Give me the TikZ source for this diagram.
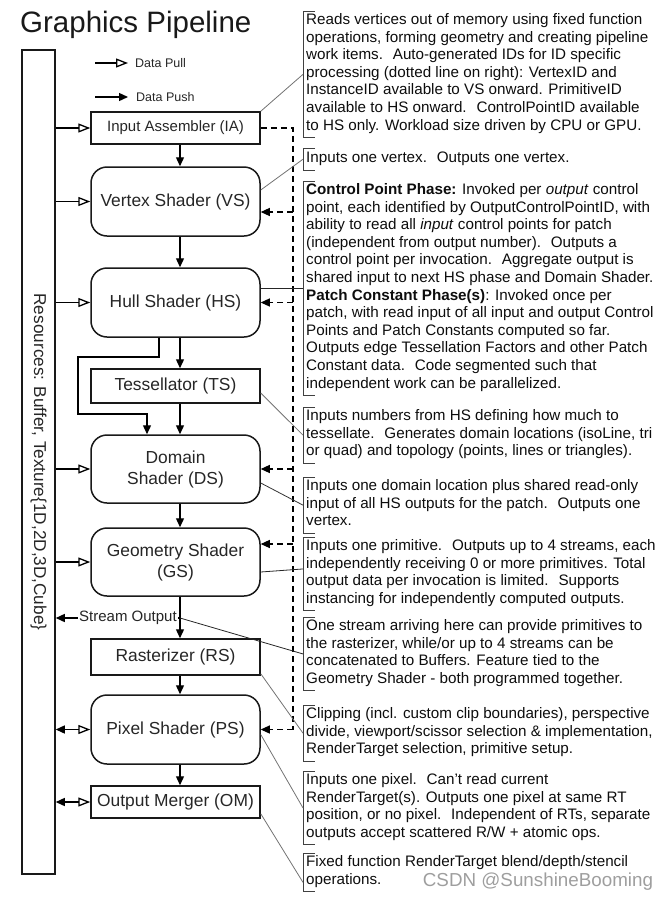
\documentclass[tikz,border=0pt]{standalone}
\usepackage{fontspec}
\setmainfont{Liberation Sans}
\usetikzlibrary{arrows.meta,calc}
\def\notebracket#1{\draw[brk] ([xshift=12pt]#1.north west) -- (#1.north west) -- (#1.south west) -- ([xshift=12pt]#1.south west);}

\tikzset{
	stage/.style={draw=black!90, line width=1.5pt, minimum width=169pt, text=black!85, font=\fontsize{17.4}{21}\selectfont, align=center, inner sep=0pt},
	shader/.style={stage, rounded corners=16pt},
	note/.style={anchor=north west, align=left, inner xsep=3pt, inner ysep=2pt, text=black!95, font=\fontsize{15.2}{17.6}\selectfont, execute at begin node=\strut, execute at end node=\strut},
	legend/.style={anchor=west, inner sep=0pt, text=black!85, font=\fontsize{12.5}{15}\selectfont},
	brk/.style={line width=0.9pt, black!75},
	lead/.style={line width=0.8pt, black!55},
	push/.style={line width=1.3pt, -{Triangle[length=9pt,width=8pt]}},
	pull/.style={line width=1.3pt, -{Triangle[open,length=12pt,width=9pt]}},
	both/.style={line width=1.3pt, {Triangle[length=9pt,width=8pt]}-{Triangle[open,length=12pt,width=9pt]}},
	idline/.style={line width=1.1pt, dash pattern=on 6pt off 4pt},
	idpush/.style={idline, -{Triangle[length=9pt,width=8pt]}}
}

\begin{document}
\begin{tikzpicture}[x=1pt, y=-1pt]
			%%%%% START %%%%%
			\useasboundingbox (0,0) rectangle (669,900);
			
			\node[anchor=base west, inner sep=0pt, text=black!90, font=\fontsize{29.5}{34}\selectfont] (title) at (20,32) {Graphics Pipeline};
			
			\node[draw=black!90, line width=1.5pt, minimum width=33pt, minimum height=824pt, inner sep=0pt] (res) at (38.5,462) {};
			\node[rotate=-90, text=black!85, font=\fontsize{17.2}{21}\selectfont] (restxt) at (res.center) {Resources: Buffer, Texture\{1D,2D,3D,Cube\}};
			
			\node[legend] (pulltxt) at (135,63) {Data Pull};
			\node[legend] (pushtxt) at (136,97) {Data Push};
			\coordinate (pullleg) at (95,63);
			\coordinate (pushleg) at (95,97);
			\draw[pull] (pullleg) -- ([xshift=-7pt]pulltxt.west);
			\draw[push] (pushleg) -- ([xshift=-8pt]pushtxt.west);
			
			\node[stage, minimum height=32pt, font=\fontsize{15}{18}\selectfont] (ia) at (175.5,128) {Input Assembler (IA)};
			\node[shader, minimum height=69pt] (vs) at (175.5,201.5) {Vertex Shader (VS)};
			\node[shader, minimum height=69pt] (hs) at (175.5,302.5) {Hull Shader (HS)};
			\node[stage, minimum height=34pt] (ts) at (175.5,386) {Tessellator (TS)};
			\node[shader, minimum height=68pt] (ds) at (175.5,469) {Domain\\Shader (DS)};
			\node[shader, minimum height=68pt] (gs) at (175.5,562) {Geometry Shader\\(GS)};
			\node[stage, minimum height=36pt] (rs) at (175.5,657) {Rasterizer (RS)};
			\node[shader, minimum height=69pt] (ps) at (175.5,729.5) {Pixel Shader (PS)};
			\node[stage, minimum height=32pt] (om) at (175.5,802) {Output Merger (OM)};
			
			% data push down the pipe
			\coordinate (spine) at (180,0);
			\foreach \a/\b in {ia/vs, vs/hs, hs/ts, ts/ds, ds/gs, gs/rs, rs/ps, ps/om}
				\draw[push] (\a.south -| spine) -- (\b.north -| spine);
			
			\coordinate (byp) at (78,357);
			\coordinate (dsin) at (147,414);
			\draw[push] ([xshift=-16.5pt]hs.south) |- (byp) |- (dsin) -- ([xshift=-28.5pt]ds.north);
			
			% data pull from resources
			\foreach \s in {ia, vs, hs, ds, gs}
				\draw[pull] (res.east |- \s) -- (\s);
			\foreach \s in {ps, om}
				\draw[both] (res.east |- \s) -- (\s);
			
			\coordinate (so) at (180,618);
			\draw[push] (so) -- (so -| res.east);
			\node[fill=white, inner xsep=1pt, inner ysep=0pt, text=black!85, font=\fontsize{15}{18}\selectfont] (sotxt) at (128,618) {Stream Output};
			
			% auto-generated IDs
			\coordinate (idcol) at (293,0);
			\draw[idline] (ia.east) -- (ia.east -| idcol) -- (ps.east -| idcol);
			\coordinate (vsid) at ([yshift=-10.5pt]vs.east);
			\coordinate (gsid) at ([yshift=18pt]gs.east);
			\foreach \t in {vsid, hs.east, ds.east, gsid, ps.east}
				\draw[idpush] (\t -| idcol) -- (\t);
			
			% notes
			\node[note] (iat) at (303,11.2) {Reads vertices out of memory using fixed function\\operations, forming geometry and creating pipeline\\work items.~ Auto-generated IDs for ID specific\\processing (dotted line on right): VertexID and\\InstanceID available to VS onward. PrimitiveID\\available to HS onward.~ ControlPointID available\\to HS only. Workload size driven by CPU or GPU.};
			\node[note] (vst) at (303,148.2) {Inputs one vertex.~ Outputs one vertex.};
			\node[note] (hst) at (303,181.2) {\textbf{Control Point Phase:} Invoked per \textit{output} control\\point, each identified by OutputControlPointID, with\\ability to read all \textit{input} control points for patch\\(independent from output number).~ Outputs a\\control point per invocation.~ Aggregate output is\\shared input to next HS phase and Domain Shader.\\\textbf{Patch Constant Phase(s)}: Invoked once per\\patch, with read input of all input and output Control\\Points and Patch Constants computed so far.\\Outputs edge Tessellation Factors and other Patch\\Constant data.~ Code segmented such that\\independent work can be parallelized.};
			\node[note] (tst) at (303,407.2) {Inputs numbers from HS defining how much to\\tessellate.~ Generates domain locations (isoLine, tri\\or quad) and topology (points, lines or triangles).};
			\node[note] (dst) at (303,477.2) {Inputs one domain location plus shared read-only\\input of all HS outputs for the patch.~ Outputs one\\vertex.};
			\node[note] (gst) at (303,537.2) {Inputs one primitive.~ Outputs up to 4 streams, each\\independently receiving 0 or more primitives. Total\\output data per invocation is limited.~ Supports\\instancing for independently computed outputs.};
			\node[note] (sot) at (303,617.2) {One stream arriving here can provide primitives to\\the rasterizer, while/or up to 4 streams can be\\concatenated to Buffers. Feature tied to the\\Geometry Shader - both programmed together.};
			\node[note] (rst) at (303,705.2) {Clipping (incl. custom clip boundaries), perspective\\divide, viewport/scissor selection \& implementation,\\RenderTarget selection, primitive setup.};
			\node[note] (pst) at (303,771.2) {Inputs one pixel.~ Can’t read current\\RenderTarget(s). Outputs one pixel at same RT\\position, or no pixel.~ Independent of RTs, separate\\outputs accept scattered R/W + atomic ops.};
			\node[note] (omt) at (303,853.2) {Fixed function RenderTarget blend/depth/stencil\\operations.};
			
			\foreach \n in {iat, vst, hst, tst, dst, gst, sot, rst, pst, omt}
				{\notebracket{\n}}
			
			\draw[lead] (ia.north east) -- (iat.west);
			\draw[lead] ([yshift=11.5pt]vs.east) -- (vst.west);
			\draw[lead, black!85] (hs.east |- hst.west) -- (hst.west);
			\draw[lead] ([yshift=-7pt]ts.east) -- (tst.west);
			\draw[lead, black!80] ([yshift=-14pt]ds.east) -- (dst.west);
			\draw[lead, black!85] ([yshift=-10pt]gs.east) -- ([yshift=5pt]gst.west);
			\draw[lead, black!85] (so) -- (sot.west);
			\draw[lead] ([yshift=2pt]rs.south east) -- (rst.west);
			\draw[lead] ([yshift=-5pt]ps.east) -- (pst.west);
			\draw[lead] ([yshift=5pt]om.south east) -- ([yshift=-10pt]omt.west);
			
			\node[text=black!38, font=\fontsize{18.8}{22}\selectfont] (mark) at (538,882) {CSDN @SunshineBooming};
			
			%%%%% END %%%%%
\end{tikzpicture}
\end{document}
